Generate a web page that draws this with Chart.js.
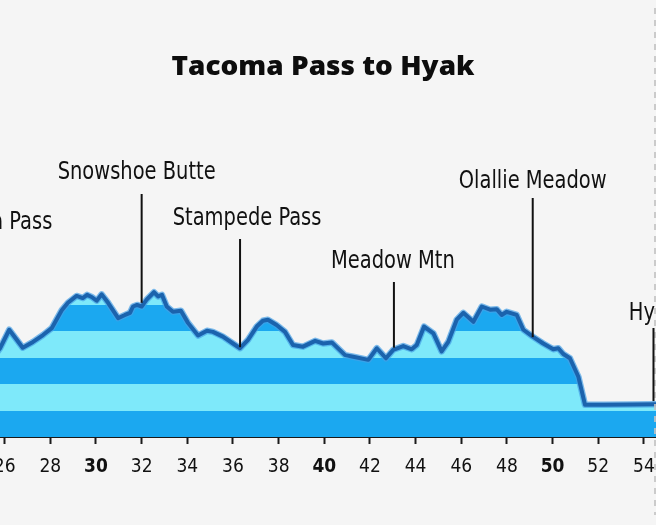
<!DOCTYPE html>
<html>
<head>
<meta charset="utf-8">
<title>Tacoma Pass to Hyak</title>
<script src="https://cdn.jsdelivr.net/npm/chart.js@4/dist/chart.umd.min.js"></script>
<style>
  html, body { margin: 0; padding: 0; background: #f5f5f5; }
  canvas { display: block; }
</style>
</head>
<body>
<canvas id="profile" width="656" height="525"></canvas>
<script>
// trail profile: mile vs elevation (ft)
const miles = [25.4, 25.795, 26.2, 26.79, 27.24, 27.68, 28.06, 28.5, 28.77, 29.15, 29.42, 29.61, 29.81, 30.03,
  30.25, 30.53, 30.97, 31.27, 31.49, 31.62, 31.8, 32.0, 32.22, 32.54, 32.72, 32.89, 33.1, 33.37, 33.72,
  34.03, 34.47, 34.86, 35.12, 35.56, 36.0, 36.31, 36.66, 37.04, 37.31, 37.53, 37.91, 38.28, 38.63, 39.07,
  39.6, 39.95, 40.33, 40.91, 41.27, 41.93, 42.3, 42.7, 43.02, 43.46, 43.83, 44.05, 44.37, 44.78, 45.14,
  45.43, 45.8, 46.09, 46.53, 46.9, 47.26, 47.55, 47.77, 47.99, 48.43, 48.72, 49.13, 49.59, 50.03, 50.25,
  50.47, 50.76, 51.13, 51.42, 52.22, 53.5, 54.53, 55.0];
const elevations = [3450, 3680, 4030, 3690, 3800, 3930, 4060, 4400, 4540, 4670, 4630, 4690, 4650, 4580,
  4700, 4540, 4250, 4310, 4350, 4470, 4500, 4470, 4600, 4740, 4660, 4690, 4470, 4370, 4390,
  4160, 3920, 4010, 3990, 3900, 3770, 3680, 3840, 4090, 4200, 4220, 4120, 3990, 3740, 3710,
  3820, 3770, 3790, 3550, 3520, 3460, 3680, 3490, 3650, 3720, 3660, 3740, 4090, 3960, 3620,
  3800, 4220, 4350, 4180, 4470, 4410, 4420, 4310, 4370, 4310, 4030, 3900, 3770, 3660, 3680,
  3570, 3490, 3140, 2610, 2610, 2615, 2620, 2620];

// landmarks along the way
const placeNames = ['Tacoma Pass', 'Snowshoe Butte', 'Stampede Pass', 'Meadow Mtn', 'Olallie Meadow', 'Hyak'];
const placeMiles = [25.35, 32.0, 36.31, 43.05, 49.13, 54.42];
const placeElevations = [3450, 4540, 3700, 3690, 3890, 2680];

// axes
const firstMile = 25.795;
const lastMile = 54.53;
const mileStep = 2;
const lowElevation = 2000;
const highElevation = 8000;

// elevation bands behind the profile
const bandEdges = [2000, 2500, 3000, 3500, 4000, 4500, 5000, 5500, 6000, 6500, 7000, 7500, 8000];

const titleText = 'Tacoma Pass to Hyak';

const narrowFont = "'Liberation Sans Narrow', 'DejaVu Sans Condensed', Roboto, sans-serif";
const bandColors = ['#1ba8f0', '#7ee9fa'];
// label layout for each landmark: [line top y, text baseline y, text shift x]
const labelLayout = [[244, 229, 1], [194, 179, -5], [239, 225, 7], [282, 268, -1], [198, 188, 0], [328, 320, 0]];

function bandFill(context) {
    const chart = context.chart;
    const area = chart.chartArea;
    if (!area) return null;
    const y = chart.scales.y;
    const span = area.bottom - area.top;
    const g = chart.ctx.createLinearGradient(0, area.bottom, 0, area.top);
    const at = v => Math.min(1, Math.max(0, (area.bottom - y.getPixelForValue(v)) / span));
    for (let i = 0; i < bandEdges.length - 1; i++) {
        const c = bandColors[i % 2];
        g.addColorStop(at(bandEdges[i]), c);
        g.addColorStop(at(bandEdges[i + 1]), c);
    }
    return g;
}

const profileDecor = {
    id: 'profileDecor',
    beforeDraw(chart) {
        const ctx = chart.ctx;
        ctx.save();
        ctx.fillStyle = '#f5f5f5';
        ctx.fillRect(0, 0, chart.width, chart.height);
        ctx.restore();
    },
    afterDraw(chart) {
        const ctx = chart.ctx;
        const x = chart.scales.x;
        const y = chart.scales.y;
        ctx.save();

        // dashed page edge on the right
        ctx.save();
        ctx.strokeStyle = 'rgba(195,195,195,0.85)';
        ctx.lineWidth = 2;
        ctx.setLineDash([6, 6]);
        ctx.beginPath();
        ctx.moveTo(655, 8);
        ctx.lineTo(655, 515);
        ctx.stroke();
        ctx.restore();

        // title
        ctx.font = "800 27px 'Open Sans', Lato, sans-serif";
        const tw = ctx.measureText(titleText).width;
        ctx.save();
        ctx.translate(323, 75);
        ctx.scale(303 / tw, 1);
        ctx.fillStyle = '#0d0d0d';
        ctx.textAlign = 'center';
        ctx.textBaseline = 'alphabetic';
        ctx.fillText(titleText, 0, 0);
        ctx.restore();

        // landmarks
        ctx.font = '25px ' + narrowFont;
        const squeeze = 158 / ctx.measureText('Snowshoe Butte').width;
        placeNames.forEach((name, i) => {
            const px = x.getPixelForValue(placeMiles[i]);
            const py = y.getPixelForValue(placeElevations[i]);
            const [top, base, dx] = labelLayout[i];
            ctx.strokeStyle = '#111';
            ctx.lineWidth = 2;
            ctx.beginPath();
            ctx.moveTo(px, top);
            ctx.lineTo(px, py);
            ctx.stroke();

            ctx.save();
            ctx.translate(px + dx, base);
            ctx.scale(squeeze, 1);
            ctx.fillStyle = '#111';
            ctx.textAlign = 'center';
            ctx.textBaseline = 'alphabetic';
            ctx.fillText(name, 0, 0);
            ctx.restore();
        });
        ctx.restore();
    }
};

const points = miles.map((m, i) => ({ x: m, y: elevations[i] }));

new Chart(document.getElementById('profile'), {
    type: 'line',
    data: {
        datasets: [
            {
                data: points,
                borderColor: '#1b63ad',
                borderWidth: 4,
                backgroundColor: bandFill,
                fill: 'start',
                pointRadius: 0,
                tension: 0,
                borderJoinStyle: 'round'
            },
            {
                // soft halo under the profile line
                data: points,
                borderColor: 'rgba(70,160,230,0.7)',
                borderWidth: 6.5,
                fill: false,
                pointRadius: 0,
                tension: 0,
                borderJoinStyle: 'round'
            }
        ]
    },
    options: {
        responsive: false,
        animation: false,
        devicePixelRatio: 1,
        layout: { padding: { top: 120, left: 0, right: 0, bottom: 0 } },
        plugins: {
            legend: { display: false },
            tooltip: { enabled: false },
            filler: { drawTime: 'beforeDatasetsDraw' }
        },
        scales: {
            x: {
                type: 'linear',
                min: firstMile,
                max: lastMile,
                afterFit(s) {
                    s.height = 88;
                    s.paddingLeft = 0;
                    s.paddingRight = 0;
                },
                border: { display: true, color: '#1a1a1a', width: 2 },
                grid: { drawOnChartArea: false, drawTicks: true, tickLength: 7, tickWidth: 2, tickColor: '#1a1a1a' },
                ticks: {
                    stepSize: mileStep,
                    includeBounds: false,
                    autoSkip: false,
                    maxRotation: 0,
                    padding: 12,
                    color: '#111',
                    font: c => ({
                        family: narrowFont,
                        size: 19,
                        weight: c.tick && c.tick.value % 10 === 0 ? 'bold' : 'normal'
                    }),
                    callback: v => v
                }
            },
            y: {
                type: 'linear',
                display: false,
                min: lowElevation,
                max: highElevation
            }
        }
    },
    plugins: [profileDecor]
});
</script>
</body>
</html>
